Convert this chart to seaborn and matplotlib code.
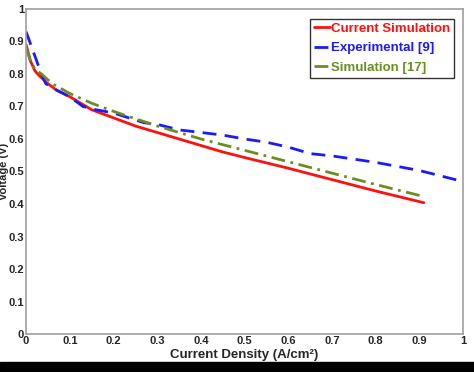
import matplotlib
matplotlib.use("Agg")
import matplotlib.pyplot as plt
import pandas as pd
import seaborn as sns
from matplotlib.patches import Rectangle

# Current Simulation
sim_x = [0.0, 0.01, 0.02, 0.03, 0.05, 0.07, 0.1, 0.15, 0.2, 0.25, 0.3, 0.35, 0.4, 0.45, 0.5, 0.6, 0.7, 0.8, 0.91]
sim_y = [0.89, 0.84, 0.81, 0.795, 0.77, 0.75, 0.73, 0.69, 0.665, 0.64, 0.62, 0.60, 0.58, 0.56, 0.543, 0.51, 0.475, 0.44, 0.404]

# Experimental [9]
exp_x = [0.0, 0.035, 0.045, 0.07, 0.1, 0.13, 0.16, 0.2, 0.27, 0.3, 0.35, 0.4, 0.45, 0.5, 0.55, 0.6, 0.65, 0.7, 0.8, 0.9, 1.0]
exp_y = [0.93, 0.80, 0.77, 0.75, 0.73, 0.70, 0.69, 0.68, 0.65, 0.645, 0.628, 0.62, 0.612, 0.60, 0.59, 0.575, 0.555, 0.548, 0.528, 0.503, 0.469]

# Simulation [17]
ref_x = [0.0, 0.01, 0.02, 0.035, 0.06, 0.1, 0.15, 0.2, 0.3, 0.4, 0.5, 0.6, 0.7, 0.8, 0.904]
ref_y = [0.88, 0.84, 0.815, 0.80, 0.77, 0.74, 0.71, 0.685, 0.64, 0.60, 0.565, 0.53, 0.495, 0.46, 0.425]

ticks = [0, 0.1, 0.2, 0.3, 0.4, 0.5, 0.6, 0.7, 0.8, 0.9, 1]
tick_labels = ["0", "0.1", "0.2", "0.3", "0.4", "0.5", "0.6", "0.7", "0.8", "0.9", "1"]

series = [
    ("Current Simulation", sim_x, sim_y, "#ff1010", "-"),
    ("Experimental [9]", exp_x, exp_y, "#1a1aff", (0, (5, 3))),
    ("Simulation [17]", ref_x, ref_y, "#6b8e23", (0, (5, 2, 1, 2))),
]

sns.set_style("white")
plt.rcParams["font.family"] = ["Liberation Sans", "DejaVu Sans"]
plt.rcParams["font.weight"] = "bold"

fig = plt.figure(figsize=(4.74, 3.72), dpi=100)
ax = fig.add_axes([0.055, 0.102, 0.922, 0.874])

for name, xs, ys, color, ls in series:
    df = pd.DataFrame({"x": xs, "y": ys})
    sns.lineplot(data=df, x="x", y="y", ax=ax, color=color, linestyle=ls,
                 linewidth=2, label=name, sort=False)

ax.set_xlim(0, 1)
ax.set_ylim(0, 1)
ax.set_xticks(ticks)
ax.set_xticklabels(tick_labels)
ax.set_yticks(ticks)
ax.set_yticklabels(tick_labels)
ax.tick_params(labelsize=8, length=2, direction="in", pad=1.5)
for lab in ax.get_xticklabels() + ax.get_yticklabels():
    lab.set_fontweight("bold")
for sp in ax.spines.values():
    sp.set_color("#a0a0a0")
    sp.set_linewidth(1.2)

ax.set_xlabel("Current Density (A/cm²)", fontsize=9.5, fontweight="bold")
ax.xaxis.set_label_coords(0.5, -0.065)
ax.xaxis.label.set_va("center")
ax.set_ylabel("Voltage (V)", fontsize=8, fontweight="bold")
ax.yaxis.set_label_coords(-0.05, 0.5)
ax.yaxis.label.set_va("center")

leg = ax.legend(loc="upper right", fontsize=9.5, handlelength=1.2, handletextpad=0.1,
                borderpad=0.3, labelspacing=0.55, fancybox=False, framealpha=1,
                bbox_to_anchor=(0.995, 0.99))
leg.get_frame().set_edgecolor("#333333")
leg.get_frame().set_linewidth(1.0)
for text, (_, _, _, color, _) in zip(leg.get_texts(), series):
    text.set_color(color)
    text.set_fontweight("bold")

fig.patches.append(Rectangle((0, 0), 1, 0.027, transform=fig.transFigure,
                             color="black", zorder=10))

fig.savefig("out.png", dpi=100)
